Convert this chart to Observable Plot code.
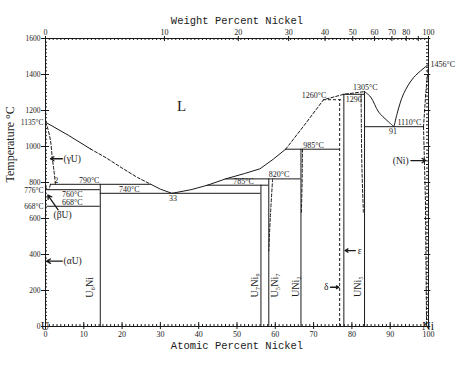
<!DOCTYPE html>
<html><head><meta charset="utf-8">
<script src="https://cdn.jsdelivr.net/npm/d3@7"></script>
<script src="https://cdn.jsdelivr.net/npm/@observablehq/plot@0.6"></script>
<style>
html,body{margin:0;padding:0;background:#fff;}
#chart{width:474px;height:372px;}
</style></head><body><div id="chart"></div>
<script>
// ---- tick values / labels ----
const atomicTicks = [0,10,20,30,40,50,60,70,80,90,100];
const weightTicks = [0,10,20,30,40,50,60,70,80,90,100];
const weightTickLabels = ["0","10","20","30","40","50","60","70","80","","100"];
const tempTicks = [0,200,400,600,800,1000,1200,1400,1600];

// weight % -> atomic % conversion (U = 238.03, Ni = 58.69)
const M_U = 238.03, M_Ni = 58.69;
const wt2at = w => w >= 100 ? 100 : 100*(w/M_Ni)/((w/M_Ni)+((100-w)/M_U));
const weightTickPos = weightTicks.map(wt2at);
const wtLabelMap = new Map(weightTickPos.map((p,i)=>[p, weightTickLabels[i]]));

// ---- phase boundaries (atomic % Ni, °C) ----
const liquidusU = [[0,1135],[6,1062],[11.7,987]];
const liquidusUDashed = [[11.7,987],[16,935],[20,880],[24,828],[27.5,790]];
const liquidusEutectic = [[27.5,790],[30,763],[33,740],[38,760],[42.3,785],[47,820],[52,850],[56,876],[59.5,930],[62.7,985]];
const liquidusHighDashed = [[62.7,985],[68,1130],[72.6,1260],[77.9,1290],[83.3,1305]];
const liquidusNiLeft = [[83.3,1305],[84.9,1275],[87,1191],[89.2,1144],[91,1110]];
const liquidusNiRight = [[91,1110],[91.8,1182],[93.5,1293],[96.2,1385],[100,1456]];
const solidusGammaU = [[0,1135],[0.45,1110],[1.3,1033],[1.75,940],[2.2,867],[2.6,790]];
const solvusGammaU = [[1.3,790],[0.9,760]];
const solvusBetaU = [[0,776],[0.5,760]];
const solidusNi = [[100,1456],[99.3,1300],[98.7,1110]];
const solvusNi = [[98.7,1110],[99.2,700],[99.5,0]];
const rangeU5Ni7 = [[59.3,820],[58.7,607],[58.3,420]];
const rangeUNi2 = [[67.1,985],[67.0,800],[66.8,628]];
const rangeUNi5 = [[82.4,1290],[82.6,900],[83.0,635]];

// invariant horizontals
const isoTemps = [790,760,740,668,785,820,985,1290,1110];
const isoFrom  = [1.3,0.5,14.3,0.4,42.3,47,62.7,77.9,83.3];
const isoTo    = [27.5,14.3,56.25,14.3,58.3,66.7,76.8,83.3,98.7];
const isotherms = isoTemps.map((t,i)=>({t, x1: isoFrom[i], x2: isoTo[i]}));
const dashedIso = [{t:1260, x1:72.6, x2:77.9}];

// compound lines
const compoundX   = [14.3,56.25,58.3,66.7,77.9,83.3];
const compoundTop = [790,785,820,985,1290,1305];
const compounds = compoundX.map((x,i)=>({x, top: compoundTop[i]}));
const deltaLine = [{x:76.8, top:1260}];

// ---- labels ----
const labelsAbove = [
  {x:11.4,y:790,text:"790°C"},{x:7.0,y:668,text:"668°C"},{x:21.9,y:740,text:"740°C"},
  {x:2.8,y:790,text:"2"},{x:51.7,y:785,text:"785°C"},{x:61,y:820,text:"820°C"},
  {x:70,y:985,text:"985°C"},{x:70.1,y:1260,text:"1260°C"},{x:83.5,y:1305,text:"1305°C"},
  {x:95,y:1110,text:"1110°C"}
];
const labelsBelow = [
  {x:7.0,y:760,text:"760°C"},{x:33.3,y:740,text:"33"},{x:80.5,y:1290,text:"1290"},{x:90.7,y:1110,text:"91"}
];
const leftLabels = [{y:1135,text:"1135°C"},{y:668,text:"668°C"}];
const leftLabelsLow = [{y:776,text:"776°C"}];
const rightLabels = [{y:1456,text:"1456°C"}];
const phaseStart = [
  {x:4.7,y:932,text:"(γU)"},{x:2.1,y:622,text:"(βU)"},{x:4.7,y:363,text:"(αU)"},{x:81.5,y:422,text:"ε"}
];
const phaseEnd = [{x:94.8,y:922,text:"(Ni)"},{x:73.9,y:218,text:"δ"}];
const arrows = [
  {x1:4.4,y1:932,x2:1.3,y2:932},{x1:3.3,y1:648,x2:0.6,y2:730},{x1:4.4,y1:363,x2:0.3,y2:363},
  {x1:95.4,y1:922,x2:99.3,y2:922},{x1:74.4,y1:218,x2:76.6,y2:218},{x1:80.9,y1:422,x2:78.2,y2:422}
];
const compoundLabels = [
  {x:11.5,y:217,text:"U₆Ni"},{x:54.6,y:228,text:"U₇Ni₉"},{x:59.8,y:228,text:"U₅Ni₇"},
  {x:65.3,y:222,text:"UNi₂"},{x:81.6,y:222,text:"UNi₅"}
];
const regionLabels = [{x:35.5,y:1222,text:"L"}];
const endLabels = [{x:0,text:"U",dx:4},{x:100,text:"Ni",dx:5}];

const ink = "#1a1a1a";
const L = {x: d=>d[0], y: d=>d[1], stroke: ink, strokeWidth: 1};
const D = {...L, strokeDasharray: "3,2"};
const serif = "Liberation Serif";
const mono = "Liberation Mono";
const fmt = d3.format("d");

const chart = Plot.plot({
  width: 474, height: 372,
  marginLeft: 45, marginRight: 46, marginTop: 38, marginBottom: 46,
  x: {domain: [0,100]},
  y: {domain: [0,1600]},
  style: {fontFamily: serif, fontSize: "8px", background: "white", color: ink},
  marks: [
    Plot.frame({stroke: ink}),
    // inward minor ticks
    Plot.ruleX(d3.range(0,101,1), {x: d=>d, y1: 0, y2: 11, stroke: ink}),
    Plot.ruleX(d3.range(0,101,1), {x: d=>d, y1: 1600, y2: 1589, stroke: ink}),
    Plot.ruleX(atomicTicks, {x: d=>d, y1: 0, y2: 22, stroke: ink}),
    Plot.ruleY(d3.range(0,1601,20), {y: d=>d, x1: 0, x2: 0.52, stroke: ink}),
    Plot.ruleY(d3.range(0,1601,20), {y: d=>d, x1: 100, x2: 99.48, stroke: ink}),
    Plot.ruleY(tempTicks, {y: d=>d, x1: 0, x2: 1.05, stroke: ink}),
    Plot.ruleY(tempTicks, {y: d=>d, x1: 100, x2: 98.95, stroke: ink}),
    Plot.ruleY(tempTicks, {y: d=>d, x1: 100, x2: 100.6, stroke: ink}),
    Plot.ruleX(weightTickPos, {x: d=>d, y1: 1600, y2: 1583, stroke: ink}),
    // axes
    Plot.axisX({ticks: atomicTicks, tickFormat: fmt, tickSize: 3, tickPadding: 2, label: null, fontSize: 8}),
    Plot.axisX({anchor: "top", ticks: weightTickPos, tickFormat: d => wtLabelMap.get(d), tickSize: 3, tickPadding: 1, label: null, fontSize: 8}),
    Plot.axisY({ticks: tempTicks, tickFormat: fmt, tickSize: 4, tickPadding: 1, label: null, fontSize: 7.5}),
    // titles
    Plot.text(["Weight Percent Nickel"], {text: d=>d, frameAnchor: "top", dy: -22, fontFamily: mono, fontSize: 10.5, fill: ink}),
    Plot.text(["Atomic Percent Nickel"], {text: d=>d, frameAnchor: "bottom", dy: 22, fontFamily: mono, fontSize: 10.5, fill: ink}),
    Plot.text(["Temperature °C"], {text: d=>d, frameAnchor: "left", dx: -35, rotate: -90, fontFamily: serif, fontSize: 12, fill: ink}),
    Plot.text(endLabels, {x: "x", y: 0, text: "text", dx: "dx", dy: 22, fontSize: 12, fill: ink}),
    // phase boundaries
    Plot.line(liquidusU, L),
    Plot.line(liquidusUDashed, D),
    Plot.line(liquidusEutectic, L),
    Plot.line(liquidusHighDashed, D),
    Plot.line(liquidusNiLeft, {...L, curve: "catmull-rom"}),
    Plot.line(liquidusNiRight, {...L, curve: "catmull-rom"}),
    Plot.line(solidusGammaU, {...D, curve: "catmull-rom"}),
    Plot.line(solvusGammaU, D),
    Plot.line(solvusBetaU, D),
    Plot.line(solidusNi, D),
    Plot.line(solvusNi, D),
    Plot.line(rangeU5Ni7, {...D, curve: "catmull-rom"}),
    Plot.line(rangeUNi2, {...D, curve: "catmull-rom"}),
    Plot.line(rangeUNi5, {...D, curve: "catmull-rom"}),
    Plot.ruleY(isotherms, {y: "t", x1: "x1", x2: "x2", stroke: ink}),
    Plot.ruleY(dashedIso, {y: "t", x1: "x1", x2: "x2", stroke: ink, strokeDasharray: "3,2"}),
    Plot.ruleX(compounds, {x: "x", y1: 0, y2: "top", stroke: ink}),
    Plot.ruleX(deltaLine, {x: "x", y1: 0, y2: "top", stroke: ink, strokeDasharray: "3,2"}),
    // arrows
    Plot.arrow(arrows, {x1: "x1", y1: "y1", x2: "x2", y2: "y2", stroke: ink, strokeWidth: 1.3, headLength: 5}),
    // labels
    Plot.text(labelsAbove, {x: "x", y: "y", text: "text", dy: -4, fontSize: 8, fill: ink}),
    Plot.text(labelsBelow, {x: "x", y: "y", text: "text", dy: 5, fontSize: 8, fill: ink}),
    Plot.text(leftLabels, {x: 0, y: "y", text: "text", dx: -2, textAnchor: "end", fontSize: 7.5, fill: ink}),
    Plot.text(leftLabelsLow, {x: 0, y: "y", text: "text", dx: -2, dy: 4, textAnchor: "end", fontSize: 7.5, fill: ink}),
    Plot.text(rightLabels, {x: 100, y: "y", text: "text", dx: 2, textAnchor: "start", fontSize: 8, fill: ink}),
    Plot.text(phaseStart, {x: "x", y: "y", text: "text", textAnchor: "start", fontSize: 9.5, fill: ink}),
    Plot.text(phaseEnd, {x: "x", y: "y", text: "text", textAnchor: "end", fontSize: 9.5, fill: ink}),
    Plot.text(compoundLabels, {x: "x", y: "y", text: "text", rotate: -90, fontSize: 10, fill: ink}),
    Plot.text(regionLabels, {x: "x", y: "y", text: "text", fontSize: 15, fill: ink})
  ]
});
document.getElementById("chart").appendChild(chart);
</script></body></html>
